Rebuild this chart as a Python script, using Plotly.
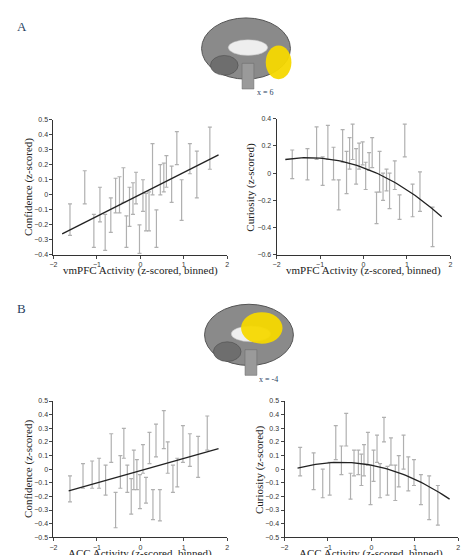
import plotly.graph_objects as go
import numpy as np

# Panel A left: vmPFC vs Confidence
a1_x = [-1.62,-1.28,-1.07,-0.93,-0.81,-0.68,-0.57,-0.48,-0.39,-0.32,-0.25,-0.17,-0.10,-0.02,0.06,0.13,0.20,0.28,0.37,0.46,0.54,0.60,0.72,0.84,0.95,1.14,1.30,1.60]
a1_hi = [-0.06,0.16,-0.13,0.05,-0.13,-0.02,0.11,0.12,0.18,-0.14,0.05,0.08,0.15,-0.20,0.10,0.01,0.02,0.34,-0.10,0.20,0.21,0.26,0.19,0.42,0.10,0.34,0.29,0.45]
a1_lo = [-0.27,-0.06,-0.35,-0.18,-0.37,-0.25,-0.12,-0.12,-0.05,-0.35,-0.21,-0.13,-0.06,-0.39,-0.11,-0.24,-0.24,0.00,-0.35,0.00,0.02,0.05,-0.05,0.20,-0.17,0.14,-0.02,0.17]
a1_fit = [0.0, 0.1458, 0.0025]  # a, b, c

# Panel A right: vmPFC vs Curiosity
a2_x = [-1.64,-1.29,-1.08,-0.94,-0.82,-0.69,-0.57,-0.48,-0.39,-0.32,-0.25,-0.17,-0.10,-0.02,0.05,0.13,0.20,0.30,0.37,0.45,0.53,0.60,0.72,0.83,0.95,1.13,1.30,1.59]
a2_hi = [0.17,0.18,0.34,0.12,0.35,0.19,-0.05,0.32,0.16,0.26,0.36,0.18,0.22,0.23,0.08,0.15,0.26,-0.14,0.16,0.00,0.03,0.00,0.09,-0.16,0.36,-0.08,0.01,-0.25]
a2_lo = [-0.04,-0.05,0.10,-0.09,0.10,-0.05,-0.27,0.08,-0.15,0.03,0.10,-0.08,0.03,0.06,-0.12,0.02,0.04,-0.37,-0.14,-0.20,-0.13,-0.26,-0.12,-0.34,0.12,-0.32,-0.28,-0.54]
a2_fit = [-0.0463, -0.1167, 0.04]

# Panel B left: ACC vs Confidence
b1_x = [-1.62,-1.32,-1.11,-0.95,-0.80,-0.67,-0.57,-0.46,-0.38,-0.30,-0.21,-0.15,-0.08,-0.01,0.06,0.13,0.21,0.29,0.36,0.45,0.54,0.63,0.75,0.85,0.98,1.14,1.33,1.54]
b1_hi = [-0.05,0.04,0.06,0.08,0.03,0.26,-0.17,0.10,0.30,0.03,-0.07,0.14,0.07,-0.04,0.18,-0.06,0.27,-0.15,0.33,-0.15,0.43,0.20,0.03,0.08,0.32,0.26,0.24,0.39]
b1_lo = [-0.24,-0.14,-0.14,-0.14,-0.19,0.05,-0.43,-0.14,0.08,-0.17,-0.33,-0.15,-0.15,-0.29,-0.03,-0.25,0.04,-0.37,0.09,-0.38,0.15,-0.03,-0.17,-0.13,0.05,0.02,-0.06,0.14]
b1_fit = [0.0, 0.0899, -0.0117]

# Panel B right: ACC vs Curiosity
b2_x = [-1.64,-1.33,-1.12,-0.96,-0.82,-0.69,-0.58,-0.48,-0.40,-0.30,-0.23,-0.17,-0.08,-0.02,0.05,0.13,0.20,0.29,0.37,0.45,0.55,0.63,0.74,0.85,0.98,1.14,1.33,1.53]
b2_hi = [0.16,0.12,0.00,0.05,0.32,0.17,0.41,-0.03,0.14,0.14,0.11,0.18,0.27,0.03,0.14,0.25,0.04,0.38,0.02,0.23,0.03,0.10,0.25,0.09,0.07,-0.04,-0.05,-0.12]
b2_lo = [-0.05,-0.15,-0.21,-0.19,0.07,-0.04,0.17,-0.22,-0.05,-0.04,-0.12,-0.05,0.03,-0.26,-0.09,0.05,-0.21,0.20,-0.19,0.03,-0.23,-0.13,0.00,-0.16,-0.12,-0.26,-0.37,-0.41]
b2_fit = [-0.0432, -0.0605, 0.0288]

panels = [
    (a1_x, a1_hi, a1_lo, a1_fit, (-1.8, 1.8), 1, "vmPFC Activity (z-scored, binned)", "Confidence (z-scored)", [-0.4, 0.5], 0.1),
    (a2_x, a2_hi, a2_lo, a2_fit, (-1.8, 1.8), 2, "vmPFC Activity (z-scored, binned)", "Curiosity (z-scored)", [-0.6, 0.4], 0.2),
    (b1_x, b1_hi, b1_lo, b1_fit, (-1.65, 1.8), 3, "ACC Activity (z-scored, binned)", "Confidence (z-scored)", [-0.5, 0.5], 0.1),
    (b2_x, b2_hi, b2_lo, b2_fit, (-1.7, 1.8), 4, "ACC Activity (z-scored, binned)", "Curiosity (z-scored)", [-0.5, 0.5], 0.1),
]

W, H = 474, 555
xpix = [(42, 218), (268, 444), (42, 218), (276, 452)]
ypix = [(109, 246), (108, 246), (394, 532), (394, 532)]

fig = go.Figure()
serif = "Liberation Serif"
ann = []
for (xs, hi, lo, fit, xr, k, xt, yt, yr, dt) in panels:
    xa = "x" if k == 1 else f"x{k}"
    ya = "y" if k == 1 else f"y{k}"
    mid = [(h + l) / 2 for h, l in zip(hi, lo)]
    err = [(h - l) / 2 for h, l in zip(hi, lo)]
    fig.add_trace(go.Scatter(x=xs, y=mid, mode="markers", marker=dict(size=1, color="rgba(0,0,0,0)"),
                             error_y=dict(type="data", array=err, color="#b0b0b0", thickness=1.2, width=2),
                             xaxis=xa, yaxis=ya, showlegend=False))
    fx = np.linspace(xr[0], xr[1], 60)
    fy = fit[0]*fx**2 + fit[1]*fx + fit[2]
    fig.add_trace(go.Scatter(x=fx, y=fy, mode="lines", line=dict(color="#222", width=1.3),
                             xaxis=xa, yaxis=ya, showlegend=False))
    axk = "" if k == 1 else str(k)
    (xl, xr_), (yt_, yb) = xpix[k-1], ypix[k-1]
    common = dict(showgrid=False, zeroline=False, showline=True, linecolor="#333", linewidth=1,
                  ticks="outside", ticklen=3, tickfont=dict(size=7, family="Liberation Sans", color="#333"))
    fig.update_layout(**{
        f"xaxis{axk}": dict(domain=[xl/W, xr_/W], anchor=ya, range=[-2, 2], dtick=1, **common),
        f"yaxis{axk}": dict(domain=[1-yb/H, 1-yt_/H], anchor=xa, range=yr, dtick=dt, **common),
    })
    ann.append(dict(text=xt, x=(xl+xr_)/2/W, y=1-(yb+16)/H, font=dict(size=11, family=serif, color="#222")))
    ann.append(dict(text=yt, x=(xl-26)/W, y=1-(yt_+yb)/2/H, textangle=-90, font=dict(size=11, family=serif, color="#222")))

shapes = []
def px(x, y):
    return x / W, 1 - y / H
for (cx, cy, yellow) in [(237, 42, "a"), (240, 332, "b")]:
    x0, y0 = px(cx-45, cy-36); x1, y1 = px(cx+45, cy+26)
    shapes.append(dict(type="circle", xref="paper", yref="paper", x0=x0, y0=y0, x1=x1, y1=y1,
                       fillcolor="#8a8a8a", line=dict(color="#555", width=1)))
    x0, y0 = px(cx-4, cy+10); x1, y1 = px(cx+8, cy+36)
    shapes.append(dict(type="rect", xref="paper", yref="paper", x0=x0, y0=y0, x1=x1, y1=y1,
                       fillcolor="#9a9a9a", line=dict(color="#666", width=0.5)))
    x0, y0 = px(cx-36, cy+2); x1, y1 = px(cx-8, cy+22)
    shapes.append(dict(type="circle", xref="paper", yref="paper", x0=x0, y0=y0, x1=x1, y1=y1,
                       fillcolor="#6e6e6e", line=dict(color="#444", width=0.5)))
    x0, y0 = px(cx-18, cy-14); x1, y1 = px(cx+22, cy+2)
    shapes.append(dict(type="circle", xref="paper", yref="paper", x0=x0, y0=y0, x1=x1, y1=y1,
                       fillcolor="#eeeeee", line=dict(color="#bbb", width=0.5)))
    if yellow == "a":
        x0, y0 = px(cx+20, cy-8); x1, y1 = px(cx+46, cy+26)
    else:
        x0, y0 = px(cx-8, cy-28); x1, y1 = px(cx+34, cy+4)
    shapes.append(dict(type="circle", xref="paper", yref="paper", x0=x0, y0=y0, x1=x1, y1=y1,
                       fillcolor="#f5d800", line=dict(width=0), opacity=0.95))
fig.update_layout(shapes=shapes)

ann += [
    dict(text="A", x=10/W, y=1-15/H, font=dict(size=13, family=serif)),
    dict(text="B", x=10/W, y=1-300/H, font=dict(size=13, family=serif)),
    dict(text="x = 6", x=257/W, y=1-82/H, font=dict(size=8, family=serif)),
    dict(text="x = -4", x=260/W, y=1-372/H, font=dict(size=8, family=serif)),
]
for a in ann:
    a.update(xref="paper", yref="paper", showarrow=False, xanchor="center", yanchor="middle")
fig.update_layout(annotations=ann, width=W, height=H, margin=dict(l=0, r=0, t=0, b=0),
                  paper_bgcolor="white", plot_bgcolor="white")
fig.write_html("out.html")
